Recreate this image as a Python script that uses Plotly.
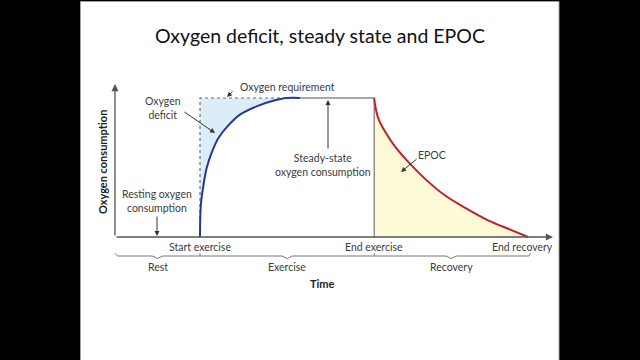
import plotly.graph_objects as go

# ---------------- data ----------------
phase_names = ["Rest", "Exercise", "Recovery"]
event_labels = ["Start exercise", "End exercise", "End recovery"]
event_times = [2.0, 6.1, 9.72]
steady_state = 1.0

onset_time = [2.0, 2.02, 2.08, 2.16, 2.28, 2.43, 2.63, 2.94, 3.33, 3.72, 4.04, 4.35]
onset_vo2 = [0.0, 0.23, 0.37, 0.50, 0.61, 0.71, 0.79, 0.88, 0.94, 0.98, 1.0, 1.0]

recovery_time = [6.1, 6.12, 6.2, 6.35, 6.59, 6.9, 7.29, 7.76, 8.24, 8.78, 9.33, 9.72]
recovery_vo2 = [1.0, 0.95, 0.85, 0.76, 0.65, 0.54, 0.42, 0.30, 0.21, 0.12, 0.05, 0.0]

# ---------------- geometry helpers ----------------
W, H = 640, 360
X0_PX, PX_PER_X = 115.0, 42.5
Y0_PX, PX_PER_Y = 237.0, 139.0


def dx(p):
    return (p - X0_PX) / PX_PER_X


def dy(p):
    return (Y0_PX - p) / PX_PER_Y


FONT = "Lato"
GREY_TXT = "#3c3c3c"
LINE_GREY = "#8a8a8a"
BLUE = "#26398c"
RED = "#c21f2b"

start_t, end_ex_t, end_rec_t = event_times
fig = go.Figure()

# oxygen deficit fill (between requirement and curve)
fig.add_trace(go.Scatter(x=onset_time, y=[steady_state] * len(onset_time),
                         mode="lines", line=dict(width=0), hoverinfo="skip",
                         showlegend=False))
fig.add_trace(go.Scatter(x=onset_time, y=onset_vo2, mode="lines",
                         line=dict(width=0, shape="spline"), fill="tonexty",
                         fillcolor="rgb(218,237,248)", hoverinfo="skip",
                         showlegend=False))
# EPOC fill
fig.add_trace(go.Scatter(x=recovery_time, y=recovery_vo2, mode="lines",
                         line=dict(width=0, shape="spline"), fill="tozeroy",
                         fillcolor="rgb(253,250,216)", hoverinfo="skip",
                         showlegend=False))
# oxygen requirement (dashed)
fig.add_trace(go.Scatter(x=[start_t, start_t, onset_time[-1]],
                         y=[0, steady_state, steady_state], mode="lines",
                         line=dict(color="#6f6f6f", width=1.2, dash="3px,3px"),
                         showlegend=False, hoverinfo="skip"))
# steady state plateau and end of exercise
fig.add_trace(go.Scatter(x=[onset_time[-1], end_ex_t, end_ex_t],
                         y=[steady_state, steady_state, 0], mode="lines",
                         line=dict(color=LINE_GREY, width=1.4),
                         showlegend=False, hoverinfo="skip"))
# onset curve
fig.add_trace(go.Scatter(x=onset_time, y=onset_vo2, mode="lines",
                         line=dict(color=BLUE, width=2, shape="spline"),
                         showlegend=False, hoverinfo="skip"))
# recovery curve
fig.add_trace(go.Scatter(x=recovery_time, y=recovery_vo2, mode="lines",
                         line=dict(color=RED, width=2, shape="spline"),
                         showlegend=False, hoverinfo="skip"))

# brace under the time axis built from phase boundaries
bounds = [0.0] + event_times
by = dy(256)
bx, byy = [bounds[0], bounds[0] + 0.06], [by + 0.02, by]
for i in range(len(phase_names)):
    mid = (bounds[i] + bounds[i + 1]) / 2
    bx += [mid - 0.12, mid, mid + 0.12]
    byy += [by, by - 0.018, by]
bx += [bounds[-1] + 0.02, bounds[-1] + 0.06]
byy += [by, by + 0.02]
fig.add_trace(go.Scatter(x=bx, y=byy, mode="lines",
                         line=dict(color="#777", width=1),
                         showlegend=False, hoverinfo="skip"))
for t in event_times[:2]:
    fig.add_trace(go.Scatter(x=[t, t], y=[by, by + 0.02], mode="lines",
                             line=dict(color="#777", width=1),
                             showlegend=False, hoverinfo="skip"))

annotations = []
# axes as arrows
annotations.append(dict(x=dx(553), y=0, ax=0, ay=0, axref="x", ayref="y",
                        xref="x", yref="y", text="", showarrow=True,
                        arrowhead=2, arrowsize=1.1, arrowwidth=1.3,
                        arrowcolor="#555"))
annotations.append(dict(x=0, y=dy(84), ax=0, ay=0, axref="x", ayref="y",
                        xref="x", yref="y", text="", showarrow=True,
                        arrowhead=2, arrowsize=1.1, arrowwidth=1.3,
                        arrowcolor="#555"))


def label(text, x, y, size=10.5, color=GREY_TXT, bold=False, angle=0):
    t = f"<b>{text}</b>" if bold else text
    annotations.append(dict(x=dx(x), y=dy(y), xref="x", yref="y", text=t,
                            showarrow=False, textangle=angle,
                            font=dict(family=FONT, size=size, color=color),
                            xanchor="center", yanchor="middle", align="center"))


def pointer(x0, y0, x1, y1):
    annotations.append(dict(x=dx(x1), y=dy(y1), ax=dx(x0), ay=dy(y0),
                            axref="x", ayref="y", xref="x", yref="y", text="",
                            showarrow=True, arrowhead=2, arrowsize=1,
                            arrowwidth=1, arrowcolor="#333"))


label("Oxygen requirement", 287, 87)
pointer(234, 90, 227, 97)
label("Oxygen<br>deficit", 163, 108)
pointer(183, 111, 215, 133)
label("Steady-state<br>oxygen consumption", 323, 165)
pointer(328, 150, 328, 100)
label("Resting oxygen<br>consumption", 157, 201)
pointer(157, 215, 157, 236)
label("EPOC", 432, 155)
pointer(418, 158, 401, 172)

# event labels on time axis
for t, txt in zip(event_times, event_labels):
    xc = X0_PX + t * PX_PER_X
    if txt == event_labels[-1]:
        xc -= 6
    label(txt, xc, 247)
# phase labels
for i, name in enumerate(phase_names):
    mid = (bounds[i] + bounds[i + 1]) / 2
    label(name, X0_PX + mid * PX_PER_X, 267)

label("Time", 322, 283, size=11, color="#222", bold=True)
label("Oxygen consumption", 102, 162, size=11, color="#222", bold=True, angle=-90)

fig.update_layout(
    width=W, height=H, autosize=False,
    margin=dict(l=0, r=0, t=0, b=0, pad=0),
    paper_bgcolor="black", plot_bgcolor="black",
    title=dict(text="Oxygen deficit, steady state and EPOC", x=0.5,
               y=1 - 36 / H, xanchor="center", yanchor="middle",
               xref="paper", yref="paper",
               font=dict(family=FONT, size=19.5, color="#111")),
    xaxis=dict(range=[dx(0), dx(W)], visible=False, fixedrange=True),
    yaxis=dict(range=[dy(H), dy(0)], visible=False, fixedrange=True),
    shapes=[dict(type="rect", xref="paper", yref="paper",
                 x0=80.5 / W, x1=559 / W, y0=-0.01, y1=1 - 1.5 / H,
                 fillcolor="white", line=dict(color="#a0a0a0", width=1),
                 layer="below")],
    annotations=annotations,
    showlegend=False,
)

fig.write_html(
    "out.html",
    config={"displayModeBar": False},
    post_script="document.body.style.margin='0';"
                "document.body.style.background='black';"
                "document.body.style.overflow='hidden';",
)
